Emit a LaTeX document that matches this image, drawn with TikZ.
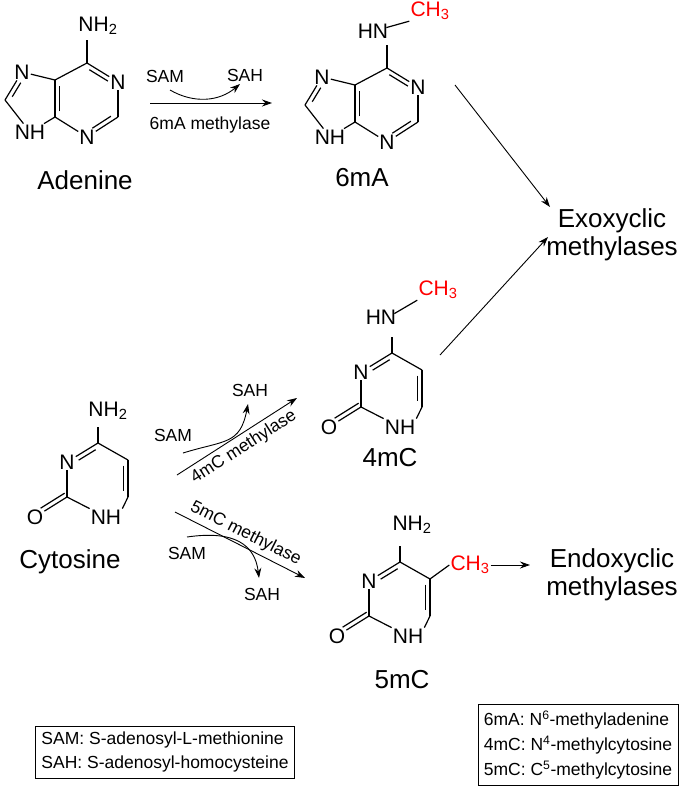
\documentclass[tikz,border=0pt]{standalone}
\usepackage{fontspec}
\setmainfont{Liberation Sans}
\usetikzlibrary{calc,arrows.meta}
\tikzset{
  atom/.style={font=\fontsize{21}{21}\selectfont, inner sep=1pt},
  title/.style={font=\fontsize{26}{28}\selectfont},
  small/.style={font=\fontsize{17.5}{17.5}\selectfont, inner sep=1pt},
  bond/.style={line width=1.2pt},
  rxn/.style={line width=0.9pt, -{Stealth[length=10pt,width=7pt]}},
  methyl/.style={atom, text=red}
}
\newcommand\dbond[4]{%
  \draw[bond] (#1) -- (#2);
  \draw[bond] ($(#1)!#3!(#2)!4.5pt!-90:(#2)$) -- ($(#2)!#4!(#1)!4.5pt!90:(#1)$);}
\begin{document}
\begin{tikzpicture}[x=1pt,y=-1pt]
\useasboundingbox (0,0) rectangle (685,793);
% adenine and 6mA
\foreach \s/\t/\p in {0/0/a,300/5/m}{
\begin{scope}[shift={(\s,\t)}]
\coordinate (\p6) at (87,63);
\node[atom] (\p1) at (118,82) {N};
\coordinate (\p2) at (118,117);
\node[atom] (\p3) at (87,137) {N};
\coordinate (\p4) at (55,117);
\coordinate (\p5) at (55,80);
\node[atom] (\p7) at (22,72) {N};
\coordinate (\p8) at (5,100);
\node[atom] (\p9) at (30,132) {NH};
\coordinate (\p0) at (87,40);
\dbond{\p6}{\p1}{0.15}{0.25}
\draw[bond] (\p1) -- (\p2);
\dbond{\p2}{\p3}{0.15}{0.25}
\draw[bond] (\p3) -- (\p4);
\dbond{\p4}{\p5}{0.15}{0.15}
\draw[bond] (\p5) -- (\p6);
\draw[bond] (\p5) -- (\p7);
\dbond{\p8}{\p7}{0.2}{0.3}
\draw[bond] (\p8) -- (\p9);
\draw[bond] (\p9) -- (\p4);
\draw[bond] (\p6) -- (\p0);
\end{scope}}
\node[atom] (aNH) at (98,26) {NH\textsubscript{2}};
\node[atom] (mNH) at (373,31) {HN};
\node[methyl] (mMe) at (430,11) {CH\textsubscript{3}};
\draw[bond] (mNH.north east) ++(-3,5) -- (mMe.south west);
\node[title] (adenine) at (85,180) {Adenine};
\node[title] (6mA) at (362,178) {6mA};
% cytosine, 4mC and 5mC
\foreach \sx/\sy/\p in {0/0/c,294/-90/f,302/119/v}{
\begin{scope}[shift={(\sx,\sy)}]
\coordinate (\p4) at (98,443);
\coordinate (\p5) at (128,460);
\coordinate (\p6) at (128,497);
\node[atom] (\p1) at (106,517) {NH};
\coordinate (\p2) at (67,497);
\node[atom] (\p3) at (67,462) {N};
\node[atom] (\p7) at (35,517) {O};
\coordinate (\p0) at (98,427);
\dbond{\p3}{\p4}{0.3}{0.15}
\dbond{\p5}{\p6}{0.15}{0.15}
\draw[bond] (\p4) -- (\p5);
\draw[bond] (\p6) -- (\p1.north east);
\draw[bond] (\p1) -- (\p2);
\draw[bond] (\p2) -- (\p3);
\dbond{\p2}{\p7}{0}{0.25}
\draw[bond] (\p4) -- (\p0);
\end{scope}}
\node[atom] (cNH) at (108,411) {NH\textsubscript{2}};
\node[atom] (fNH) at (381,317) {HN};
\node[methyl] (fMe) at (438,290) {CH\textsubscript{3}};
\draw[bond] (fNH.north east) ++(-3,5) -- (fMe.south west);
\node[atom] (vNH) at (412,525) {NH\textsubscript{2}};
\node[methyl] (vMe) at (470,565) {CH\textsubscript{3}};
\draw[bond] (v5) -- (vMe.west);
\node[title] (cytosine) at (70,562) {Cytosine};
\node[title] (4mC) at (390,458) {4mC};
\node[title] (5mC) at (402,680) {5mC};
% reactions
\coordinate (r1a) at (150,103);
\coordinate (r1b) at (272,103);
\draw[rxn] (r1a) -- (r1b);
\node[small] (sam1) at (165,76) {SAM};
\node[small] (sah1) at (245,75) {SAH};
\node[small] (enz1) at (210,125) {6mA methylase};
\draw[rxn] (170,90) to[bend right=35] (240,84);
\coordinate (r2a) at (177,475);
\coordinate (r2b) at (297,398);
\draw[rxn] (r2a) -- (r2b) node[midway, below=3pt, sloped, small] {4mC methylase};
\node[small] (sam2) at (173,435) {SAM};
\node[small] (sah2) at (250,390) {SAH};
\draw[rxn] (183,453) .. controls (225,440) and (240,445) .. (248,404);
\coordinate (r3a) at (175,512);
\coordinate (r3b) at (305,578);
\draw[rxn] (r3a) -- (r3b) node[midway, above=3pt, sloped, small] {5mC methylase};
\node[small] (sam3) at (187,553) {SAM};
\node[small] (sah3) at (262,594) {SAH};
\draw[rxn] (187,537) .. controls (235,530) and (255,545) .. (259,578);
% classes
\node[title, align=center] (exo) at (612,235) {Exoxyclic\\methylases};
\node[title, align=center] (endo) at (612,575) {Endoxyclic\\methylases};
\draw[rxn] (455,85) -- (550,207);
\draw[rxn] (440,355) -- (548,237);
\draw[rxn] (vMe.east) -- (530,565);
% legends
\node[draw, small, align=left, inner sep=6pt, line width=0.8pt] (leg1) at (165,752)
  {SAM: S-adenosyl-L-methionine\\[6pt]SAH: S-adenosyl-homocysteine};
\node[draw, small, align=left, inner sep=6pt, line width=0.8pt] (leg2) at (578,745)
  {6mA: N\textsuperscript{6}-methyladenine\\[6pt]4mC: N\textsuperscript{4}-methylcytosine\\[6pt]5mC: C\textsuperscript{5}-methylcytosine};
\end{tikzpicture}
\end{document}
